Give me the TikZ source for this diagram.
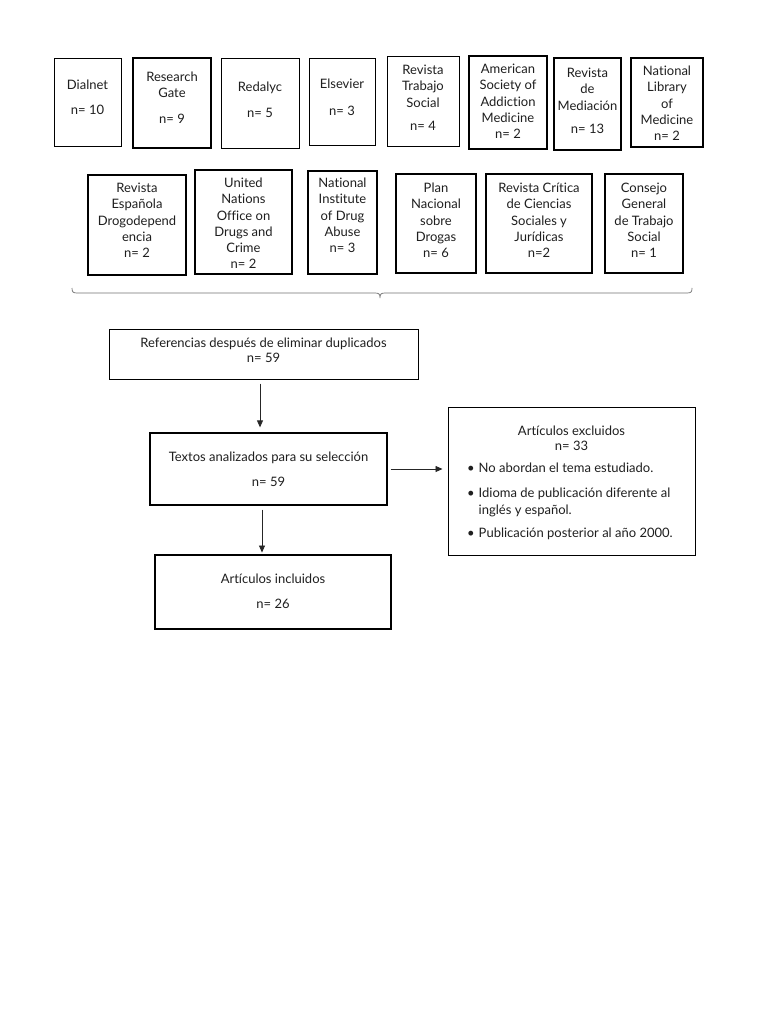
\documentclass[tikz,border=0pt]{standalone}
\usepackage{fontspec}
\setmainfont{Lato}[Ligatures=NoCommon]
\usetikzlibrary{arrows.meta}
\newcommand\mkbox[6]{\node[#2, minimum width={#5-#3}, minimum height={#6-#4}] (#1) at ({(#3+#5)/2},{(#4+#6)/2}) {};}
\begin{document}
\begin{tikzpicture}[x=1pt,y=-1pt,
  bx/.style={draw, rectangle, line width=1pt, inner sep=0pt},
  bxm/.style={bx, line width=1.3pt},
  bxt/.style={bx, line width=1.9pt},
  lbl/.style={align=center, inner sep=0pt, anchor=north, text=black!88, font=\fontsize{13}{16.2}\selectfont},
  arr/.style={-{Triangle[length=7pt,width=6pt]}, line width=0.8pt, black!85}]
\useasboundingbox[fill=white] (0,0) rectangle (768,1024);

% row 1
\mkbox{dial}{bx}{54}{59}{121}{147}
\mkbox{rg}{bxt}{133}{58}{211}{148}
\mkbox{red}{bx}{221}{59}{299}{149}
\mkbox{els}{bx}{309}{59}{375}{146}
\mkbox{rts}{bx}{387}{57}{459}{147}
\mkbox{asam}{bxt}{469}{56}{547}{149}
\mkbox{rdm}{bxm}{554}{58}{621}{150}
\mkbox{nlm}{bxm}{631}{58}{703}{147}

\node[lbl] (tdial) at (87.5,80) {Dialnet\\[8.5pt]n= 10};
\node[lbl] (trg) at (172,72) {Research\\Gate\\[9.5pt]n= 9};
\node[lbl] (tred) at (260,82) {Redalyc\\[9.5pt]n= 5};
\node[lbl] (tels) at (342,79) {Elsevier\\[10.5pt]n= 3};
\node[lbl] (trts) at (423,65) {Revista\\Trabajo\\Social\\[7.5pt]n= 4};
\node[lbl] (tasam) at (508,64) {American\\Society of\\Addiction\\Medicine\\n= 2};
\node[lbl] (trdm) at (587.5,68) {Revista\\de\\Mediación\\[7.4pt]n= 13};
\node[lbl] (tnlm) at (667,66) {National\\Library\\of\\Medicine\\n= 2};

% row 2
\mkbox{rev}{bxt}{88}{175}{186}{275}
\mkbox{unodc}{bxm}{195}{170}{292}{274}
\mkbox{nida}{bxm}{308}{171}{377}{274}
\mkbox{pnsd}{bxt}{396}{174}{476}{273}
\mkbox{rcc}{bxm}{486}{174}{592}{273}
\mkbox{cgts}{bxm}{605}{174}{683}{273}

\node[lbl] (trev) at (137,183) {Revista\\Española\\Drogodepend\\encia\\n= 2};
\node[lbl] (tunodc) at (243.5,178) {United\\Nations\\Office on\\Drugs and\\Crime\\n= 2};
\node[lbl] (tnida) at (342.5,178) {National\\Institute\\of Drug\\Abuse\\n= 3};
\node[lbl] (tpnsd) at (436,183) {Plan\\Nacional\\sobre\\Drogas\\n= 6};
\node[lbl] (trcc) at (539,183) {Revista Crítica\\de Ciencias\\Sociales y\\Jurídicas\\n=2};
\node[lbl] (tcgts) at (644,183) {Consejo\\General\\de Trabajo\\Social\\n= 1};

% brace
\coordinate (bl) at (72,288);
\coordinate (bm) at (380,298);
\coordinate (br) at (692,288);
\draw[line width=0.7pt, black!55] (bl) .. controls (72,292) and (73,293) .. (77,293) -- (375,293)
  .. controls (379,293) and (380,294) .. (bm)
  .. controls (380,294) and (381,293) .. (385,293) -- (687,293)
  .. controls (691,293) and (692,292) .. (br);

% lower flow
\mkbox{ref}{bx}{109}{329}{418}{379}
\mkbox{tex}{bxm}{150}{433}{387}{505}
\mkbox{inc}{bxt}{155}{555}{391}{629}
\mkbox{exc}{bx}{448}{407}{695}{555}

\node[lbl] (tref) at (263.5,338) {Referencias después de eliminar duplicados\\[-1.2pt]n= 59};
\node[lbl] (ttex) at (268.5,452) {Textos analizados para su selección\\[8.8pt]n= 59};
\node[lbl] (tinc) at (273,574) {Artículos incluidos\\[8.3pt]n= 26};
\node[lbl] (texc) at (571.5,426) {Artículos excluidos\\[-1.2pt]n= 33};
\node[lbl, anchor=north west, align=left] (lexc) at (467,463)
  {\textbullet\hspace{4pt}No abordan el tema estudiado.\\[9pt]
   \textbullet\hspace{4pt}Idioma de publicación diferente al\\
   \phantom{\textbullet}\hspace{4pt}inglés y español.\\[7pt]
   \textbullet\hspace{4pt}Publicación posterior al año 2000.};

\draw[arr] ([xshift=-3.5pt,yshift=-4pt]ref.south) -- ([xshift=-8.5pt,yshift=5pt]tex.north);
\draw[arr] ([xshift=-6.5pt,yshift=-4pt]tex.south) -- ([xshift=-11pt,yshift=1.5pt]inc.north);
\draw[arr] ([xshift=3pt]tex.east) -- ([xshift=-5pt]exc.west |- tex.east);
\end{tikzpicture}
\end{document}
